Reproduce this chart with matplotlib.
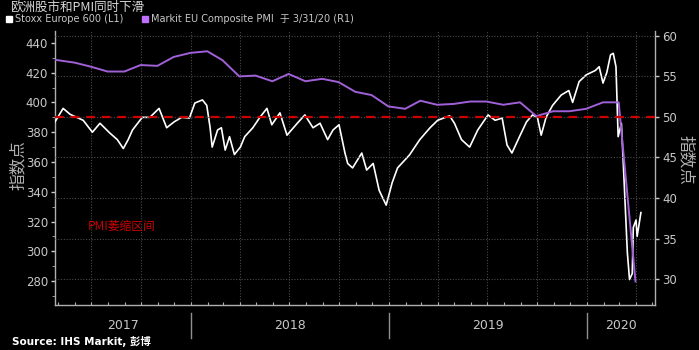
import matplotlib
matplotlib.use('Agg')
import matplotlib.pyplot as plt
import matplotlib.dates as mdates
import matplotlib.transforms as mtransforms
import matplotlib.patches as mpatches
import pandas as pd

# ---------------- data ----------------
stoxx_dates = [
    '2017-04-25', '2017-05-10', '2017-05-23', '2017-06-16', '2017-07-03', '2017-07-17',
    '2017-08-04', '2017-08-18', '2017-08-29', '2017-09-07', '2017-09-15', '2017-10-03',
    '2017-10-17', '2017-11-03', '2017-11-17', '2017-12-01', '2017-12-15', '2017-12-29',
    '2018-01-08', '2018-01-22', '2018-01-30', '2018-02-05', '2018-02-09', '2018-02-19',
    '2018-02-26', '2018-03-05', '2018-03-13', '2018-03-22', '2018-04-02', '2018-04-10',
    '2018-04-25', '2018-05-08', '2018-05-21', '2018-05-30', '2018-06-14', '2018-06-27',
    '2018-07-16', '2018-07-30', '2018-08-14', '2018-08-27', '2018-09-10', '2018-09-20',
    '2018-10-01', '2018-10-12', '2018-10-17', '2018-10-26', '2018-11-12', '2018-11-21',
    '2018-12-03', '2018-12-14', '2018-12-27', '2019-01-07', '2019-01-17', '2019-02-08',
    '2019-02-27', '2019-03-18', '2019-04-01', '2019-04-23', '2019-05-02', '2019-05-15',
    '2019-05-30', '2019-06-14', '2019-07-03', '2019-07-16', '2019-07-29', '2019-08-07',
    '2019-08-16', '2019-08-30', '2019-09-12', '2019-09-23', '2019-10-02', '2019-10-09',
    '2019-10-18', '2019-10-30', '2019-11-15', '2019-11-29', '2019-12-06', '2019-12-18',
    '2019-12-31', '2020-01-17', '2020-01-24', '2020-01-31', '2020-02-07', '2020-02-14',
    '2020-02-19', '2020-02-24', '2020-02-28', '2020-03-05', '2020-03-09', '2020-03-16',
    '2020-03-20', '2020-03-25', '2020-03-27', '2020-04-01', '2020-04-03', '2020-04-07',
    '2020-04-10',
]
stoxx_values = [
    387, 396, 392, 388, 380, 386,
    379.5, 375, 369, 375, 381.5, 390,
    390, 396, 383, 387, 390, 389.5,
    399.6, 401.7, 398, 383.5, 370, 381.5,
    383, 368, 377, 365, 370, 377,
    383, 390, 396, 385, 393, 378,
    386, 391.6, 383, 386, 375, 381.5,
    385, 366, 359, 356, 366, 354.6,
    359, 341, 331, 346, 356, 364.7,
    375, 383, 388, 391, 386, 375,
    370, 381.5, 391.6, 388, 389.5, 371.4,
    366, 377, 387, 391.6, 390, 378,
    390, 398, 405, 408, 400, 414,
    418.5, 421.5, 424, 413, 420, 432,
    433, 424, 377, 386, 355, 299,
    281, 285, 316, 321, 310, 319,
    326,
]

pmi_dates = [
    '2017-03-31', '2017-04-30', '2017-05-31', '2017-06-30', '2017-07-31', '2017-08-31',
    '2017-09-30', '2017-10-31', '2017-11-30', '2017-12-31', '2018-01-31', '2018-02-28',
    '2018-03-31', '2018-04-30', '2018-05-31', '2018-06-30', '2018-07-31', '2018-08-31',
    '2018-09-30', '2018-10-31', '2018-11-30', '2018-12-31', '2019-01-31', '2019-02-28',
    '2019-03-31', '2019-04-30', '2019-05-31', '2019-06-30', '2019-07-31', '2019-08-31',
    '2019-09-30', '2019-10-31', '2019-11-30', '2019-12-31', '2020-01-31', '2020-02-29',
    '2020-03-31',
]
pmi_values = [
    57.3, 57.0, 56.7, 56.2, 55.6, 55.6,
    56.4, 56.3, 57.4, 57.9, 58.1, 57.0,
    55.0, 55.1, 54.4, 55.3, 54.4, 54.7,
    54.3, 53.1, 52.7, 51.3, 51.0, 52.0,
    51.5, 51.6, 51.9, 51.9, 51.5, 51.8,
    50.1, 50.7, 50.7, 51.0, 51.8, 51.8,
    29.7,
]

left_ticks = [280, 300, 320, 340, 360, 380, 400, 420, 440]
right_ticks = [30, 35, 40, 45, 50, 55, 60]
year_labels = ['2017', '2018', '2019', '2020']
pmi_threshold = 50

title_text = '欧洲股市和PMI同时下滑'
axis_label = '指数点'
zone_label = 'PMI萎缩区间'
legend_stoxx = 'Stoxx Europe 600 (L1)'
legend_pmi = 'Markit EU Composite PMI  于 3/31/20 (R1)'
source_text = 'Source: IHS Markit, 彭博'

# ---------------- style ----------------
plt.rcParams['font.family'] = ['DejaVu Sans', 'Noto Sans CJK SC']
BG = 'black'
FG = '#c8c8c8'
GRID = '#4a4a4a'
PURPLE = '#a060d8'
RED = '#cc0000'

x_start = pd.Timestamp('2017-04-25')
x_end = pd.Timestamp('2020-05-06')

fig = plt.figure(figsize=(6.99, 3.5), dpi=100, facecolor=BG)
ax1 = fig.add_axes([55 / 699, 45 / 350, 600 / 699, 274 / 350])
ax1.set_facecolor(BG)
ax2 = ax1.twinx()

sd = pd.to_datetime(stoxx_dates)
pdts = pd.to_datetime(pmi_dates)

# vertical quarterly grid
quarters = pd.date_range('2017-04-01', '2020-04-01', freq='QS')
for q in quarters:
    if x_start < q < x_end:
        ax1.axvline(q, color=GRID, lw=0.8, ls=(0, (1, 1.5)), zorder=0)

ax1.plot(sd, stoxx_values, color='white', lw=1.2, zorder=3)
ax2.plot(pdts, pmi_values, color=PURPLE, lw=1.4, zorder=3)
ax2.axhline(pmi_threshold, color=RED, lw=1.6, ls=(0, (4, 3)), zorder=4)

ax1.set_xlim(x_start, x_end)
ax1.set_ylim(263.9, 448)
ax2.set_ylim(26.8, 60.6)

ax2.set_yticks(right_ticks)
ax2.grid(axis='y', color=GRID, lw=0.8, ls=(0, (1, 1.5)))
ax2.set_axisbelow(True)
ax1.set_yticks(left_ticks)
ax1.set_yticks(range(270, 450, 10), minor=True)

for ax in (ax1, ax2):
    ax.spines['top'].set_visible(False)
    for s in ('left', 'right', 'bottom'):
        ax.spines[s].set_color('#b0b0b0')
        ax.spines[s].set_linewidth(1.0)
ax1.spines['right'].set_visible(False)
ax2.spines['left'].set_visible(False)
ax2.spines['bottom'].set_visible(False)

ax1.tick_params(axis='y', colors=FG, labelsize=8.5, length=3, width=1, pad=2)
ax1.tick_params(axis='y', which='minor', colors='#b0b0b0', length=2)
ax2.tick_params(axis='y', colors=FG, labelsize=8.5, length=3, width=1, pad=2)

ax1.xaxis.set_major_locator(mdates.MonthLocator())
ax1.xaxis.set_major_formatter(plt.NullFormatter())
ax1.tick_params(axis='x', colors='#b0b0b0', length=2, width=0.8, direction='in')

# year labels and separators
trans = mtransforms.blended_transform_factory(ax1.transData, ax1.transAxes)
for lab in year_labels:
    y0 = max(pd.Timestamp(f'{lab}-01-01'), x_start)
    y1 = min(pd.Timestamp(f'{int(lab) + 1}-01-01'), x_end)
    mid = y0 + (y1 - y0) / 2
    ax1.text(mid, -0.075, lab, transform=trans, ha='center', va='center',
             color=FG, fontsize=9)
    if pd.Timestamp(f'{lab}-01-01') > x_start:
        ax1.plot([pd.Timestamp(f'{lab}-01-01')] * 2, [-0.03, -0.12], transform=trans,
                 color='#909090', lw=1, clip_on=False)

# axis labels
fig.text(18 / 699, 1 - 165 / 350, axis_label, rotation=90, ha='center', va='center',
         color='#b0b0b0', fontsize=12, family=['Noto Sans CJK SC'])
fig.text(686 / 699, 1 - 160 / 350, axis_label, rotation=270, ha='center', va='center',
         color='#b0b0b0', fontsize=12, family=['Noto Sans CJK SC'])

# zone annotation
fig.text(88 / 699, 1 - 226 / 350, zone_label, ha='left', va='center', color=RED,
         fontsize=8.5, family=['Noto Sans CJK SC'])

# title at the very top
fig.text(10 / 699, 1 - 1 / 350, title_text, ha='left', va='top', color='#d8d8d8',
         fontsize=9, family=['Noto Sans CJK SC', 'DejaVu Sans'])

# legend
fig.patches.append(mpatches.Rectangle((6 / 699, 1 - 22 / 350), 6 / 699, 6 / 350,
                                      transform=fig.transFigure, color='white'))
fig.text(15 / 699, 1 - 19 / 350, legend_stoxx, ha='left', va='center', color=FG, fontsize=7)
fig.patches.append(mpatches.Rectangle((142 / 699, 1 - 22 / 350), 6 / 699, 6 / 350,
                                      transform=fig.transFigure, color='#c070ff'))
fig.text(151 / 699, 1 - 19 / 350, legend_pmi, ha='left', va='center', color=FG, fontsize=7,
         family=['DejaVu Sans', 'Noto Sans CJK SC'])

# source
fig.text(12 / 699, 1 - 341 / 350, source_text, ha='left', va='center', color='white',
         fontsize=7.5, fontweight='bold', family=['DejaVu Sans', 'Noto Sans CJK SC'])

fig.savefig('out.png', dpi=100, facecolor=BG)
